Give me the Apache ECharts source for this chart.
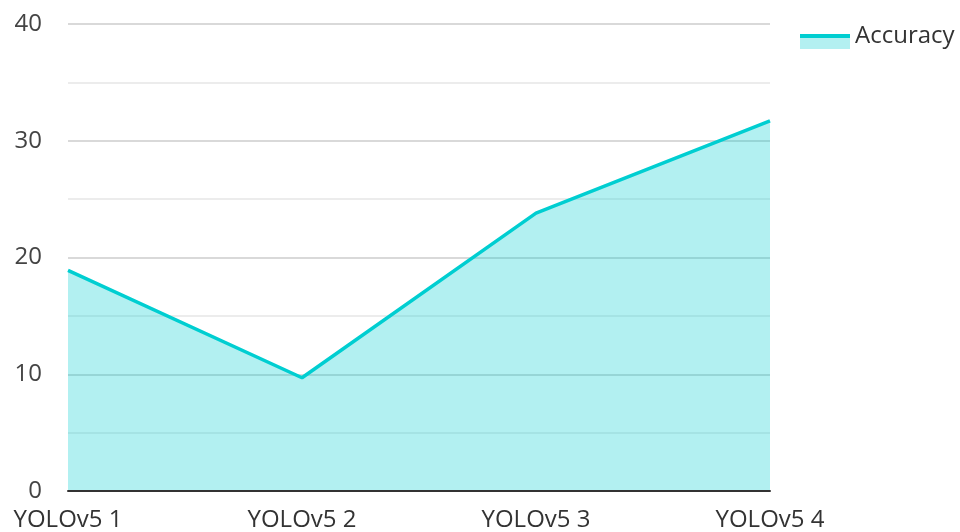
<!DOCTYPE html>
<html>
<head>
<meta charset="utf-8">
<script src="https://cdn.jsdelivr.net/npm/echarts@6/dist/echarts.min.js"></script>
<style>html,body{margin:0;padding:0;background:#fff}#c{width:960px;height:532px}</style>
</head>
<body>
<div id="c"></div>
<script>
const categories = ['YOLOv5 1', 'YOLOv5 2', 'YOLOv5 3', 'YOLOv5 4'];
const accuracy = [18.9, 9.7, 23.8, 31.7];
const seriesName = 'Accuracy';

const LINE = '#00ced1';
const AREA = 'rgba(0,206,209,0.3)';
const FONT = '"Open Sans", "Noto Sans", sans-serif';

const chart = echarts.init(document.getElementById('c'), null, {renderer: 'canvas'});
chart.setOption({
  animation: false,
  backgroundColor: '#ffffff',
  grid: {left: 68, right: 190, top: 24, bottom: 41, containLabel: false},
  legend: {
    left: 795, top: 19,
    itemWidth: 50, itemHeight: 15, itemGap: 10,
    icon: 'rect',
    data: [{
      name: seriesName,
      itemStyle: {
        color: {type: 'linear', x: 0, y: 0, x2: 0, y2: 1, colorStops: [
          {offset: 0, color: LINE}, {offset: 0.27, color: LINE},
          {offset: 0.27, color: '#b3f0f1'}, {offset: 1, color: '#b3f0f1'}
        ]},
        borderWidth: 0
      }
    }],
    formatter: '{t|{name}}',
    textStyle: {
      fontFamily: FONT, fontSize: 24, color: '#333',
      rich: {t: {fontFamily: FONT, fontSize: 24, color: '#333', padding: [0, 0, 11, 0]}}
    }
  },
  xAxis: {
    type: 'category',
    data: categories,
    boundaryGap: false,
    z: 5,
    axisLine: {show: true, lineStyle: {color: '#333', width: 2}},
    axisTick: {show: false},
    axisLabel: {fontFamily: FONT, fontSize: 24, color: '#333', margin: 17}
  },
  yAxis: {
    type: 'value',
    min: 0, max: 40, interval: 10,
    axisLine: {show: false},
    axisTick: {show: false},
    axisLabel: {fontFamily: FONT, fontSize: 24, color: '#444', margin: 26},
    splitLine: {show: true, lineStyle: {color: '#cccccc', width: 1.5}},
    minorTick: {show: false, splitNumber: 2},
    minorSplitLine: {show: true, lineStyle: {color: '#e6e6e6', width: 1.5}}
  },
  series: [{
    name: seriesName,
    type: 'line',
    data: accuracy,
    symbol: 'none',
    lineStyle: {color: LINE, width: 3.5},
    itemStyle: {color: LINE},
    areaStyle: {color: AREA, opacity: 1}
  }]
});
</script>
</body>
</html>
